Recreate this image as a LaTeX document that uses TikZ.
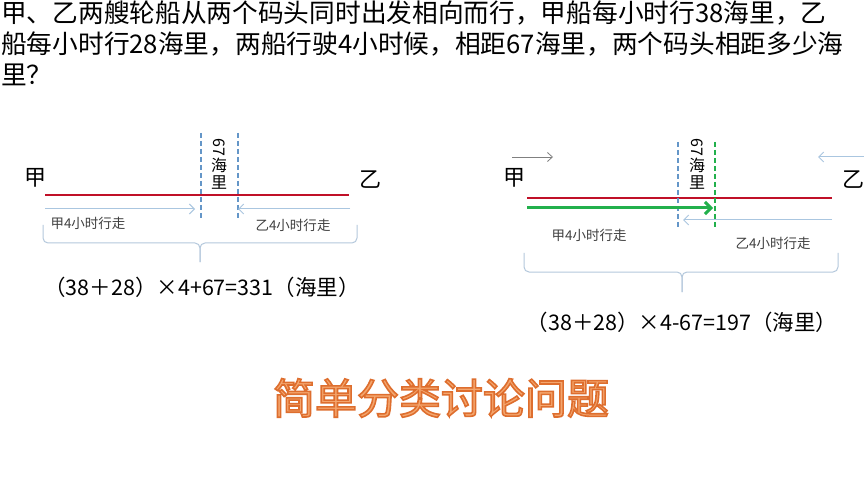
\documentclass[tikz,border=0pt]{standalone}
\usepackage{fontspec}
\setmainfont{Noto Sans CJK SC}
\usetikzlibrary{arrows.meta}
\definecolor{roadred}{RGB}{192,16,40}
\definecolor{gapblue}{RGB}{100,150,200}
\definecolor{walkblue}{RGB}{170,198,224}
\definecolor{braceblue}{RGB}{180,200,220}
\definecolor{trackgreen}{RGB}{34,176,76}
\definecolor{titlefill}{RGB}{244,166,110}
\newcommand\outlined[1]{\special{pdf:literal direct 2 Tr 1.6 w 0.87 0.43 0.18 RG}#1\special{pdf:literal direct 0 Tr}}
\begin{document}
\begin{tikzpicture}[x=1pt,y=-1pt,>=Straight Barb,
  road/.style={draw=roadred,line width=2.6pt},
  gap/.style={line width=1.9pt,dash pattern=on 5pt off 3pt},
  walk/.style={draw=walkblue,line width=1pt,-{Straight Barb[length=5pt,width=10pt]}},
  brace/.style={draw=braceblue,line width=1pt,rounded corners=5pt},
  port/.style={font=\fontsize{22}{22}\selectfont},
  note/.style={font=\fontsize{13.5}{13.5}\selectfont,text=black!75},
  sum/.style={font=\fontsize{21.5}{21.5}\selectfont},
  gaplabel/.style={font=\fontsize{16}{17}\selectfont,align=center,inner sep=0pt}]
\useasboundingbox[fill=white] (0,0) rectangle (864,486);
% question
\node[anchor=north west,inner sep=0pt,align=left,font=\fontsize{25.7}{31}\selectfont] (question) at (1,1)
  {甲、乙两艘轮船从两个码头同时出发相向而行，甲船每小时行38海里，乙\\
   船每小时行28海里，两船行驶4小时候，相距67海里，两个码头相距多少海\\
   里？};
% left case
\node[port] (jiaA) at (35,178) {甲};
\node[port] (yiA) at (370,180) {乙};
\coordinate (roadAl) at (45,195); \coordinate (roadAr) at (349,195);
\draw[road] (roadAl) -- (roadAr);
\foreach \n/\x in {p/201,q/238}{
  \coordinate (gapA\n t) at (\x,133); \coordinate (gapA\n b) at (\x,218);
  \draw[gap,draw=gapblue] (gapA\n t) -- (gapA\n b);}
\node[gaplabel] (distA) at (219,164) {\rotatebox{-90}{67}\\海\\里};
\coordinate (walkAjs) at (45,209); \coordinate (walkAje) at (195,209);
\coordinate (walkAys) at (350,209); \coordinate (walkAye) at (238,209);
\draw[walk] (walkAjs) -- (walkAje);
\draw[walk] (walkAys) -- (walkAye);
\node[note] (noteAj) at (88,223) {甲4小时行走};
\node[note] (noteAy) at (293,225) {乙4小时行走};
\coordinate (braceAl) at (43,225); \coordinate (braceAr) at (357,225);
\coordinate (braceAm) at (200,243); \coordinate (braceAt) at (200,262);
\draw[brace] (braceAl) |- (braceAm) -- (braceAt);
\draw[brace] (braceAr) |- (braceAm) -- (braceAt);
\node[sum] (sumA) at (202,287) {（38＋28）×4+67=331（海里）};
% right case
\node[port] (jiaB) at (514,178) {甲};
\node[port] (yiB) at (853,180) {乙};
\coordinate (headBjs) at (512,157); \coordinate (headBje) at (553,157);
\draw[draw=gray,line width=0.8pt,-{Straight Barb[length=5pt,width=9pt]}] (headBjs) -- (headBje);
\coordinate (headBys) at (870,157); \coordinate (headBye) at (818,157);
\draw[walk] (headBys) -- (headBye);
\coordinate (roadBl) at (527,198); \coordinate (roadBr) at (832,198);
\draw[road] (roadBl) -- (roadBr);
\foreach \n/\x/\c in {p/678/gapblue,q/715/trackgreen}{
  \coordinate (gapB\n t) at (\x,142); \coordinate (gapB\n b) at (\x,228);
  \draw[gap,draw=\c] (gapB\n t) -- (gapB\n b);}
\node[gaplabel] (distB) at (697,164) {\rotatebox{-90}{67}\\海\\里};
\coordinate (trackBs) at (527,208); \coordinate (trackBe) at (713,208);
\draw[draw=trackgreen,line width=3pt,-{Straight Barb[length=6pt,width=12pt]}] (trackBs) -- (trackBe);
\coordinate (walkBys) at (832,220); \coordinate (walkBye) at (683,220);
\draw[walk] (walkBys) -- (walkBye);
\node[note] (noteBj) at (589,235) {甲4小时行走};
\node[note] (noteBy) at (773,243) {乙4小时行走};
\coordinate (braceBl) at (524,253); \coordinate (braceBr) at (838,253);
\coordinate (braceBm) at (682,272); \coordinate (braceBt) at (682,292);
\draw[brace] (braceBl) |- (braceBm) -- (braceBt);
\draw[brace] (braceBr) |- (braceBm) -- (braceBt);
\node[sum] (sumB) at (682,322) {（38＋28）×4-67=197（海里）};
% title
\node[font=\fontsize{42}{42}\selectfont,text=titlefill] (topic) at (441,398) {\outlined{简单分类讨论问题}};
\end{tikzpicture}
\end{document}
